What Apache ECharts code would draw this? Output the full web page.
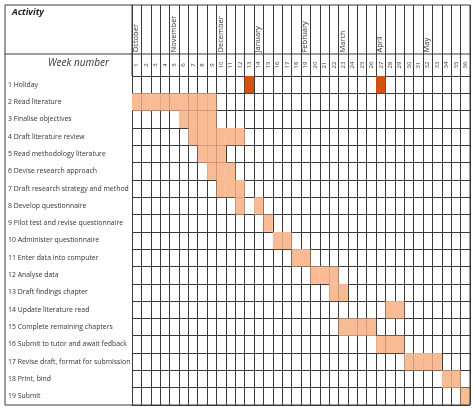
<!DOCTYPE html><html><head><meta charset="utf-8">
<script src="https://cdn.jsdelivr.net/npm/echarts@6/dist/echarts.min.js"></script>
<style>html,body{margin:0;padding:0;background:#fff}#c{width:474px;height:409px}</style></head><body><div id="c"></div>
<script>
const activities=['1 Holiday','2 Read literature','3 Finalise objectives','4 Draft literature review','5 Read methodology literature','6 Devise research approach','7 Draft research strategy and method','8 Develop questionnaire','9 Pilot test and revise questionnaire','10 Administer questionnaire','11 Enter data into computer','12 Analyse data','13 Draft findings chapter','14 Update literature read','15 Complete remaining chapters','16 Submit to tutor and await fedback','17 Revise draft, format for submission','18 Print, bind','19 Submit'];
const activityWeeks=[[13,27],[1,2,3,4,5,6,7,8,9],[6,7,8,9],[7,8,9,10,11,12],[8,9,10],[9,10,11],[10,11,12],[12,14],[15],[16,17],[18,19],[20,21,22],[22,23],[28,29],[23,24,25,26],[27,28,29],[30,31,32,33],[34,35],[36]];
const weeks=Array.from({length:36},(_,i)=>i+1);
const months=[[1,'October'],[5,'November'],[10,'December'],[14,'January'],[19,'February'],[23,'March'],[27,'April'],[32,'May']];
const cells=[];activityWeeks.forEach((ws,r)=>ws.forEach(w=>cells.push([w,r,r===0?1:0])));
const F='Open Sans',LC='#3a3a3a';
const chart=echarts.init(document.getElementById('c'));
chart.setOption({
 animation:false,
 grid:[{left:132,right:4,top:5,height:71},{left:132,right:4,top:76,bottom:4}],
 xAxis:[
  {gridIndex:0,type:'value',min:0,max:36,interval:1,axisLabel:{show:false},axisTick:{show:false},axisLine:{show:false},splitLine:{lineStyle:{color:LC,width:1}}},
  {gridIndex:1,type:'value',min:0,max:36,interval:1,axisLabel:{show:false},axisTick:{show:false},axisLine:{show:false},splitLine:{lineStyle:{color:LC,width:1}}}],
 yAxis:[
  {gridIndex:0,type:'value',min:0,max:71,show:false},
  {gridIndex:1,type:'category',inverse:true,data:activities,axisLine:{lineStyle:{color:LC}},
   axisTick:{length:127,lineStyle:{color:LC}},splitLine:{show:true,lineStyle:{color:LC}},
   axisLabel:{align:'left',margin:124,fontFamily:F,fontSize:6.9,color:'#333'}}],
 graphic:[
  {type:'rect',shape:{x:5,y:5,width:465,height:400},style:{fill:'none',stroke:LC,lineWidth:1},z:10},
  {type:'line',shape:{x1:5,y1:54,x2:470,y2:54},style:{stroke:LC,lineWidth:1},z:10},
  {type:'line',shape:{x1:132,y1:5,x2:132,y2:76},style:{stroke:LC,lineWidth:1},z:10},
  {type:'text',left:12,top:8,style:{text:'Activity',font:'italic bold 9px "Open Sans"',fill:'#222'}},
  {type:'text',left:48,top:58,style:{text:'Week number',font:'italic 10px "Open Sans"',fill:'#333'}}],
 series:[
  {type:'custom',xAxisIndex:1,yAxisIndex:1,data:cells,z:1,renderItem:(p,api)=>{
    const w=api.value(0),r=api.value(1),hol=api.value(2);
    const a=api.coord([w-1,r]),b=api.coord([w,r]),h=api.size([0,1])[1];
    return {type:'rect',shape:{x:a[0],y:a[1]-h/2,width:b[0]-a[0],height:h},style:{fill:hol?'#d4520f':'#f9bb94'}};}},
  {type:'custom',xAxisIndex:0,yAxisIndex:0,data:weeks,renderItem:(p,api)=>{
    const w=api.value(0),c=api.coord([w-0.5,11]);
    return {type:'text',x:c[0],y:c[1],rotation:Math.PI/2,style:{text:String(w),font:'6px "Open Sans"',fill:'#333',align:'center',verticalAlign:'middle'}};}},
  {type:'custom',xAxisIndex:0,yAxisIndex:0,data:months,renderItem:(p,api)=>{
    const w=api.value(0),c=api.coord([w-0.55,23.5]);
    return {type:'text',x:c[0],y:c[1],rotation:Math.PI/2,style:{text:months[p.dataIndex][1],font:'7.5px "Open Sans"',fill:'#333',align:'left',verticalAlign:'middle'}};}}
 ]});
</script></body></html>
